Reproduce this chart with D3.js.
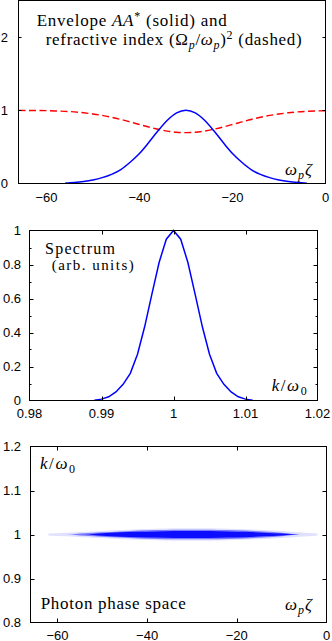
<!DOCTYPE html>
<html>
<head>
<meta charset="utf-8">
<script src="https://cdn.jsdelivr.net/npm/d3@7"></script>
<style>
  html, body { margin: 0; padding: 0; background: #fff; }
  svg { display: block; }
  .tick-label { font-family: 'Liberation Sans', Arial, sans-serif; font-size: 13px; fill: #000; }
  .note { font-family: 'Liberation Serif', 'DejaVu Serif', 'Times New Roman', serif; font-size: 17px; fill: #000; }
</style>
</head>
<body>
<svg id="chart" width="332" height="641"></svg>
<script>
/* ---------- Data ---------- */

// Panel 1: envelope AA* (solid blue) and refractive index (dashed red) vs omega_p zeta
const envZeta = [-56, -54, -52, -50, -48, -46, -44, -42, -40, -38, -36, -34, -32, -30,
                 -28, -26, -24, -22, -20, -18, -16, -14, -12, -10, -8, -6, -4];
const envValue = [0.004, 0.012, 0.026, 0.048, 0.080, 0.125, 0.190, 0.290, 0.410, 0.560, 0.720, 0.864, 0.964, 1.0,
                  0.964, 0.864, 0.720, 0.560, 0.410, 0.290, 0.190, 0.125, 0.080, 0.048, 0.026, 0.012, 0.004];

const refZeta = [-66, -64, -62, -60, -58, -56, -54, -52, -50, -48, -46, -44, -42, -40, -38, -36, -34,
                 -32, -30, -28, -26, -24, -22, -20, -18, -16, -14, -12, -10, -8, -6, -4, -2, 0];
const refValue = [0.999, 0.998, 0.997, 0.995, 0.991, 0.986, 0.978, 0.966, 0.950, 0.930, 0.905, 0.875, 0.841, 0.806, 0.772, 0.741, 0.716,
                  0.700, 0.695, 0.700, 0.716, 0.741, 0.772, 0.806, 0.841, 0.875, 0.905, 0.930, 0.950, 0.966, 0.978, 0.986, 0.991, 0.995];

// Panel 2: spectrum vs k/omega_0
const specK = [0.989, 0.990, 0.991, 0.992, 0.993, 0.994, 0.995, 0.996, 0.997, 0.998, 0.999, 1.000,
               1.001, 1.002, 1.003, 1.004, 1.005, 1.006, 1.007, 1.008, 1.009, 1.010, 1.011];
const specValue = [0.002, 0.008, 0.022, 0.050, 0.095, 0.160, 0.272, 0.435, 0.626, 0.812, 0.949, 1.0,
                   0.949, 0.812, 0.626, 0.435, 0.272, 0.160, 0.095, 0.050, 0.022, 0.008, 0.002];

// Panel 3: photon phase space, band of points around k/omega_0 = 1
// half-widths (in k/omega_0) of the faint halo, the mid layer and the dense core
const bandZeta = [-62, -58, -54, -50, -46, -42, -38, -34, -30, -26, -22, -18, -14, -10, -6, -2];
const haloHalf = [0.002, 0.004, 0.006, 0.008, 0.010, 0.012, 0.013, 0.014, 0.014, 0.014, 0.013, 0.012, 0.010, 0.008, 0.005, 0.002];
const midHalf  = [0, 0, 0.003, 0.005, 0.007, 0.009, 0.010, 0.011, 0.011, 0.011, 0.010, 0.009, 0.007, 0.004, 0, 0];
const coreHalf = [0, 0, 0, 0.003, 0.005, 0.006, 0.007, 0.008, 0.008, 0.008, 0.007, 0.006, 0.004, 0.002, 0, 0];

// Tick values
const p1xTicks = [-60, -40, -20, 0];
const p1yTicks = [0, 1, 2];
const p2xTicks = [0.98, 0.99, 1, 1.01, 1.02];
const p2yTicks = [0, 0.2, 0.4, 0.6, 0.8, 1];
const p2yMinor = [0.1, 0.3, 0.5, 0.7, 0.9];
const p3xTicks = [-60, -40, -20, 0];
const p3yTicks = [0.8, 0.9, 1, 1.1, 1.2];

/* ---------- Setup ---------- */
const svg = d3.select('#chart');
const BLUE = '#0000ff';
const RED = '#ff0000';

function frame(box) {
  svg.append('rect')
    .attr('x', box.l).attr('y', box.t)
    .attr('width', box.r - box.l).attr('height', box.b - box.t)
    .attr('fill', 'none').attr('stroke', '#000').attr('stroke-width', 1);
}

// inward ticks on both sides, gnuplot style
function yTicks(box, y, vals, len) {
  vals.forEach(v => {
    const yy = Math.round(y(v)) + 0.5;
    svg.append('line').attr('x1', box.l).attr('x2', box.l + len).attr('y1', yy).attr('y2', yy).attr('stroke', '#000');
    svg.append('line').attr('x1', box.r).attr('x2', box.r - len).attr('y1', yy).attr('y2', yy).attr('stroke', '#000');
  });
}
function xTicks(box, x, vals, len) {
  vals.forEach(v => {
    const xx = Math.round(x(v)) + 0.5;
    svg.append('line').attr('y1', box.b).attr('y2', box.b - len).attr('x1', xx).attr('x2', xx).attr('stroke', '#000');
    svg.append('line').attr('y1', box.t).attr('y2', box.t + len).attr('x1', xx).attr('x2', xx).attr('stroke', '#000');
  });
}
function yLabels(box, y, vals, xEnd, fmt) {
  vals.forEach(v => {
    svg.append('text').attr('class', 'tick-label')
      .attr('x', xEnd).attr('y', y(v)).attr('dy', '0.36em')
      .attr('text-anchor', 'end').text(fmt(v));
  });
}
function xLabels(box, x, vals, base, fmt) {
  vals.forEach(v => {
    svg.append('text').attr('class', 'tick-label')
      .attr('x', x(v)).attr('y', base)
      .attr('text-anchor', 'middle').text(fmt(v));
  });
}
const minus = s => String(s).replace('-', '\u2212');

// rich text: parts = [[text, style]], style: i = italic, sub, sup
function note(x, y, parts, len, size) {
  const t = svg.append('text').attr('class', 'note').attr('x', x).attr('y', y);
  if (size) t.style('font-size', size + 'px');
  let shift = 0;
  parts.forEach(([s, st]) => {
    const sp = t.append('tspan').text(s);
    let target = 0;
    if (st && st.includes('sub')) target = 4;
    if (st && st.includes('sup')) target = -6;
    if (target !== shift) { sp.attr('dy', target - shift); shift = target; }
    if (st && st.includes('i')) sp.attr('font-style', 'italic');
    if (st && (st.includes('sub') || st.includes('sup'))) sp.style('font-size', '12px');
  });
  if (len) t.attr('textLength', len).attr('lengthAdjust', 'spacing');
  return t;
}

/* ---------- Panel 1 ---------- */
const b1 = { l: 18.5, r: 325.5, t: 0.5, b: 183.5 };
const x1 = d3.scaleLinear().domain([-66, 0]).range([b1.l, b1.r]);
const y1 = d3.scaleLinear().domain([0, 2.5]).range([b1.b, b1.t]);

svg.append('path')
  .datum(refZeta.map((z, i) => [z, refValue[i]]))
  .attr('fill', 'none').attr('stroke', RED).attr('stroke-width', 1.4)
  .attr('stroke-dasharray', '7,3.5')
  .attr('d', d3.line().x(d => x1(d[0])).y(d => y1(d[1])).curve(d3.curveMonotoneX));

svg.append('path')
  .datum(envZeta.map((z, i) => [z, envValue[i]]))
  .attr('fill', 'none').attr('stroke', BLUE).attr('stroke-width', 1.5)
  .attr('d', d3.line().x(d => x1(d[0])).y(d => y1(d[1])).curve(d3.curveMonotoneX));

frame(b1);
yTicks(b1, y1, p1yTicks.slice(1), 3);
yLabels(b1, y1, p1yTicks, 8, d => d);
xLabels(b1, x1, p1xTicks, 201.5, minus);

note(36.7, 26, [['Envelope '], ['AA', 'i'], ['*', 'sup'], [' (solid) and']], 190);
note(45.7, 44.5, [['refractive index ('], ['\u03A9'], ['p', 'i sub'], ['/'], ['\u03C9', 'i'], ['p', 'i sub'], [')'], ['2', 'sup'], [' (dashed)']], 256);
note(285, 175, [['\u03C9', 'i'], ['p', 'i sub'], ['\u03B6', 'i']], 27);

/* ---------- Panel 2 ---------- */
const b2 = { l: 29.5, r: 317.5, t: 230.5, b: 400.5 };
const x2 = d3.scaleLinear().domain([0.98, 1.02]).range([b2.l, b2.r]);
const y2 = d3.scaleLinear().domain([0, 1]).range([b2.b, b2.t]);

svg.append('path')
  .datum(specK.map((k, i) => [k, specValue[i]]))
  .attr('fill', 'none').attr('stroke', BLUE).attr('stroke-width', 1.5)
  .attr('d', d3.line().x(d => x2(d[0])).y(d => y2(d[1])));

frame(b2);
yTicks(b2, y2, p2yTicks.slice(1, -1), 4);
yTicks(b2, y2, p2yMinor, 2);
xTicks(b2, x2, p2xTicks.slice(1, -1), 4);
yLabels(b2, y2, p2yTicks, 21, d => d);
xLabels(b2, x2, p2xTicks, 418, d => d);

note(45, 253.5, [['Spectrum']], 70, 16);
note(51.7, 270, [['(arb. units)']], 82, 15);
note(271.7, 391, [['k', 'i'], ['/'], ['\u03C9', 'i'], ['0', 'sub']], 35);

/* ---------- Panel 3 ---------- */
const b3 = { l: 30.5, r: 326.5, t: 446.5, b: 622.5 };
const x3 = d3.scaleLinear().domain([-66, 0]).range([b3.l, b3.r]);
const y3 = d3.scaleLinear().domain([0.8, 1.2]).range([b3.b, b3.t]);

const band = half => d3.area()
  .x((z, i) => x3(z))
  .y0((z, i) => y3(1 - half[i]))
  .y1((z, i) => y3(1 + half[i]))
  .curve(d3.curveMonotoneX);

svg.append('path').datum(bandZeta).attr('fill', BLUE).attr('fill-opacity', 0.12).attr('d', band(haloHalf));
svg.append('path').datum(bandZeta).attr('fill', BLUE).attr('fill-opacity', 0.45).attr('d', band(midHalf));
svg.append('path').datum(bandZeta).attr('fill', BLUE).attr('fill-opacity', 0.9).attr('d', band(coreHalf));

frame(b3);
yTicks(b3, y3, p3yTicks.slice(1, -1), 4);
xTicks(b3, x3, p3xTicks.slice(0, -1), 4);
yLabels(b3, y3, p3yTicks, 21, d => d);
xLabels(b3, x3, p3xTicks, 639.5, minus);

note(40, 469, [['k', 'i'], ['/'], ['\u03C9', 'i'], ['0', 'sub']], 35);
note(40.7, 609, [['Photon phase space']], 145);
note(285, 610, [['\u03C9', 'i'], ['p', 'i sub'], ['\u03B6', 'i']], 27);
</script>
</body>
</html>
